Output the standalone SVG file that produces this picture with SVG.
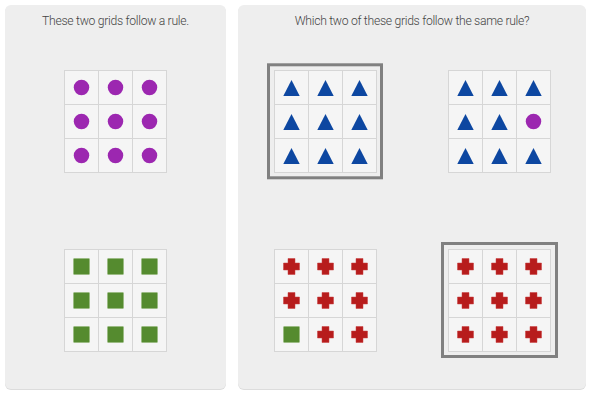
<svg xmlns="http://www.w3.org/2000/svg" width="600" height="401" viewBox="0 0 600 401">
<style>
.panel{fill:#eeeeee}
.shadow{fill:#dcdcdc}
.title{font-family:Roboto,"Liberation Sans",sans-serif;font-weight:300;font-size:12.2px;letter-spacing:-0.3px;fill:#444444;text-anchor:middle}
.cell{fill:#f5f5f5;stroke:#d6d6d6;stroke-width:1}
.frame{fill:none;stroke:#808080;stroke-width:3}
.p{fill:#9c27b0}
.b{fill:#0d47a1}
.g{fill:#558b2f;stroke:#6a9c45;stroke-width:0.5}
.r{fill:#b71c1c;stroke:#c94040;stroke-width:0.5}
</style>
<defs>
<g id="cells">
<rect class="cell" x="0" y="0" width="34" height="34"/>
<rect class="cell" x="34" y="0" width="34" height="34"/>
<rect class="cell" x="68" y="0" width="34" height="34"/>
<rect class="cell" x="0" y="34" width="34" height="34"/>
<rect class="cell" x="34" y="34" width="34" height="34"/>
<rect class="cell" x="68" y="34" width="34" height="34"/>
<rect class="cell" x="0" y="68" width="34" height="34"/>
<rect class="cell" x="34" y="68" width="34" height="34"/>
<rect class="cell" x="68" y="68" width="34" height="34"/>
</g>
<circle id="circ" class="p" cx="0" cy="0" r="7.75"/>
<path id="tri" class="b" d="M0,-7.6 L8.2,8.4 L-8.2,8.4 Z"/>
<rect id="sq" class="g" x="-7.75" y="-7.75" width="15.5" height="15.5"/>
<path id="crs" class="r" d="M-3.5,-8 h7 v4.5 h4.5 v7 h-4.5 v4.5 h-7 v-4.5 h-4.5 v-7 h4.5 z"/>
</defs>

<g id="left-panel">
<rect class="shadow" x="5" y="6" width="221" height="384" rx="6"/>
<rect class="panel" x="5" y="5" width="221" height="384" rx="6"/>
<text class="title" x="115.5" y="25">These two grids follow a rule.</text>
</g>
<g id="right-panel">
<rect class="shadow" x="238" y="6" width="348" height="384" rx="6"/>
<rect class="panel" x="238" y="5" width="348" height="384" rx="6"/>
<text class="title" x="412" y="25">Which two of these grids follow the same rule?</text>
</g>

<g id="grid-circles">
<use href="#cells" x="64.5" y="70.5"/>
<use href="#circ" x="81.5" y="87.5"/><use href="#circ" x="115.5" y="87.5"/><use href="#circ" x="149.5" y="87.5"/>
<use href="#circ" x="81.5" y="121.5"/><use href="#circ" x="115.5" y="121.5"/><use href="#circ" x="149.5" y="121.5"/>
<use href="#circ" x="81.5" y="155.5"/><use href="#circ" x="115.5" y="155.5"/><use href="#circ" x="149.5" y="155.5"/>
</g>

<g id="grid-squares">
<use href="#cells" x="64.5" y="249.5"/>
<use href="#sq" x="81.5" y="266.5"/><use href="#sq" x="115.5" y="266.5"/><use href="#sq" x="149.5" y="266.5"/>
<use href="#sq" x="81.5" y="300.5"/><use href="#sq" x="115.5" y="300.5"/><use href="#sq" x="149.5" y="300.5"/>
<use href="#sq" x="81.5" y="334.5"/><use href="#sq" x="115.5" y="334.5"/><use href="#sq" x="149.5" y="334.5"/>
</g>

<g id="grid-triangles-selected">
<rect class="frame" x="268.5" y="64.8" width="113" height="113"/>
<use href="#cells" x="274.5" y="70.5"/>
<use href="#tri" x="291.5" y="87.5"/><use href="#tri" x="325.5" y="87.5"/><use href="#tri" x="359.5" y="87.5"/>
<use href="#tri" x="291.5" y="121.5"/><use href="#tri" x="325.5" y="121.5"/><use href="#tri" x="359.5" y="121.5"/>
<use href="#tri" x="291.5" y="155.5"/><use href="#tri" x="325.5" y="155.5"/><use href="#tri" x="359.5" y="155.5"/>
</g>

<g id="grid-triangles-odd">
<use href="#cells" x="448.5" y="70.5"/>
<use href="#tri" x="465.5" y="87.5"/><use href="#tri" x="499.5" y="87.5"/><use href="#tri" x="533.5" y="87.5"/>
<use href="#tri" x="465.5" y="121.5"/><use href="#tri" x="499.5" y="121.5"/><use href="#circ" x="533.5" y="121.5"/>
<use href="#tri" x="465.5" y="155.5"/><use href="#tri" x="499.5" y="155.5"/><use href="#tri" x="533.5" y="155.5"/>
</g>

<g id="grid-crosses-odd">
<use href="#cells" x="274.5" y="249.5"/>
<use href="#crs" x="291.5" y="266.5"/><use href="#crs" x="325.5" y="266.5"/><use href="#crs" x="359.5" y="266.5"/>
<use href="#crs" x="291.5" y="300.5"/><use href="#crs" x="325.5" y="300.5"/><use href="#crs" x="359.5" y="300.5"/>
<use href="#sq" x="291.5" y="334.5"/><use href="#crs" x="325.5" y="334.5"/><use href="#crs" x="359.5" y="334.5"/>
</g>

<g id="grid-crosses-selected">
<rect class="frame" x="442.5" y="243.5" width="114" height="113"/>
<use href="#cells" x="448.5" y="249.5"/>
<use href="#crs" x="465.5" y="266.5"/><use href="#crs" x="499.5" y="266.5"/><use href="#crs" x="533.5" y="266.5"/>
<use href="#crs" x="465.5" y="300.5"/><use href="#crs" x="499.5" y="300.5"/><use href="#crs" x="533.5" y="300.5"/>
<use href="#crs" x="465.5" y="334.5"/><use href="#crs" x="499.5" y="334.5"/><use href="#crs" x="533.5" y="334.5"/>
</g>
</svg>
